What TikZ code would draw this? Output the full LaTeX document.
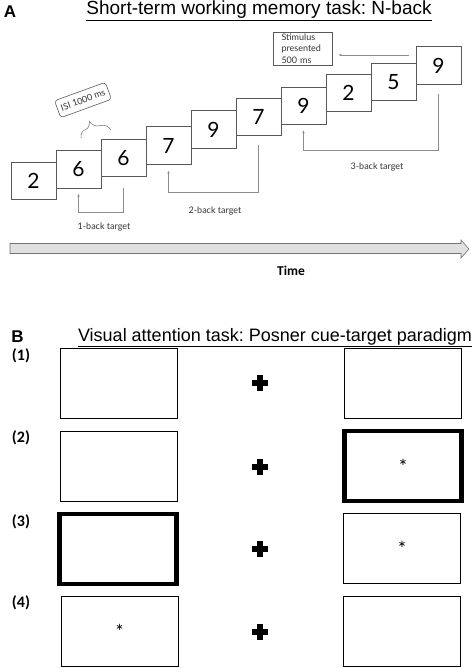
\documentclass[tikz,border=0pt]{standalone}
\usepackage{fontspec}
\setmainfont{Liberation Sans}
\newfontfamily\latofont{Lato}
\newfontfamily\calfont{Carlito}
\usetikzlibrary{positioning}
\usetikzlibrary{arrows.meta}
\usetikzlibrary{decorations.pathreplacing}

\tikzset{
  digitbox/.style={draw=black!65, fill=white, line width=0.6pt, minimum width=45pt, minimum height=37.5pt, inner sep=0pt, font=\latofont\fontsize{21}{21}\selectfont},
  note/.style={font=\latofont\fontsize{9}{11.5}\selectfont, text=black!80},
  link/.style={draw=black!45, line width=0.6pt, -{Latex[length=3pt,width=2.5pt]}},
  screen/.style={draw, line width=0.7pt, minimum width=117pt, minimum height=70pt, inner sep=0pt, font=\calfont\fontsize{20}{20}\selectfont},
  cuebox/.style={screen, line width=4.5pt},
  rowlabel/.style={font=\calfont\bfseries\fontsize{16}{16}\selectfont},
  paneltitle/.style={anchor=base, font=\frenchspacing\fontsize{#1}{#1}\selectfont},
  fixation/.pic={\fill (-8,-3) rectangle (8,3); \fill (-3,-8) rectangle (3,8);}
}

\begin{document}
\begin{tikzpicture}[x=1pt,y=-1pt]
\useasboundingbox (0,0) rectangle (474,668);

% panel A: N-back
\node [anchor=base, font=\bfseries\fontsize{17}{17}\selectfont] (labA) at (10,18) {A};
\node [paneltitle=19] (titleA) at (259,15) {\underline{Short-term working memory task:\ N-back}};

\foreach \d/\cy [count=\i from 0] in {2/181,6/169.5,6/158,7/145.5,9/129.5,7/117,9/106,2/93,5/82,9/65.5}
  \node [digitbox] (d\i) at (33.5+45*\i,\cy) {\d};

\node [draw=black!65, line width=0.6pt, minimum width=59pt, minimum height=33pt, text width=42pt, align=left, inner sep=1pt, note] (stim) at (302.5,48.5) {Stimulus\\presented\\500 ms};
\draw [link, shorten >=6pt] (d9.west) ++(-7,-10.5) coordinate (s0) -- (s0 -| stim.east);

\node [draw=black!65, line width=0.6pt, rounded corners=3pt, rotate=20, minimum width=54pt, minimum height=18pt, inner sep=1pt, note] (isi) at (83,100) {ISI 1000 ms};
\draw [draw=black!50, line width=0.6pt, decorate, decoration={brace, amplitude=14pt, aspect=0.4}] (81,138) -- (111,130);

% targets
\draw [link] ([yshift=-11pt]d2.south) -- ++(0,24) -| ([yshift=-5pt]d1.south);
\draw [link] ([yshift=-9pt]d5.south) -- ++(0,47) -| ([yshift=-6pt]d3.south);
\draw [link] ([yshift=-9pt]d9.south) -- ++(0,57) -| ([yshift=-5pt]d6.south);
\node [anchor=base, note] (back1) at (104,229) {1-back target};
\node [anchor=base, note] (back2) at (215,214) {2-back target};
\node [anchor=base, note] (back3) at (377,170) {3-back target};

% time axis
\draw [draw=black!55, fill=black!12, line width=0.6pt] (10,243.5) -- (461,243.5) -- (461,240) -- (469,249) -- (461,258) -- (461,253.5) -- (10,253.5) -- cycle;
\node [anchor=base, font=\calfont\bfseries\fontsize{13.5}{13.5}\selectfont] (time) at (291,275) {Time};

% panel B: Posner
\node [anchor=base, font=\bfseries\fontsize{17}{17}\selectfont] (labB) at (17.5,342) {B};
\node [paneltitle=18] (titleB) at (275,341) {\underline{Visual attention task:\ Posner cue-target paradigm}};

\node [rowlabel] (n1) at (21,356) {(1)};
\node [screen] (l1) at (119,383) {};
\node [screen] (r1) at (403,383) {};
\pic at (260,383) {fixation};

\node [rowlabel] (n2) at (21,438) {(2)};
\node [screen] (l2) at (119,466) {};
\node [cuebox] (r2) at (403,466) {*};
\pic at (260,467) {fixation};

\node [rowlabel] (n3) at (21,522) {(3)};
\node [cuebox] (l3) at (118,549) {};
\node [screen] (r3) at (402,548) {*};
\pic at (260,549) {fixation};

\node [rowlabel] (n4) at (21,603) {(4)};
\node [screen] (l4) at (119.5,631) {*};
\node [screen] (r4) at (402,631) {};
\pic at (260,632) {fixation};

\end{tikzpicture}
\end{document}
